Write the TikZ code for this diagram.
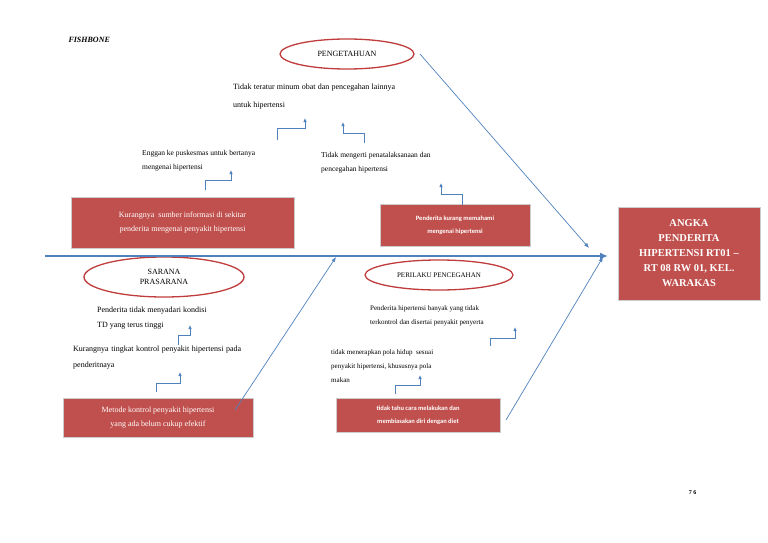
\documentclass[tikz,border=0pt]{standalone}
\usepackage{fontspec}
\setmainfont{Liberation Serif}
\newfontfamily\carl{Carlito}
\usetikzlibrary{arrows.meta}
\definecolor{boxred}{RGB}{192,80,77}
\definecolor{ellred}{RGB}{192,60,60}
\definecolor{bone}{RGB}{79,129,189}
\tikzset{
 redbox/.style={fill=boxred,draw=white!80!black,line width=0.8pt,text=white,align=center,inner sep=2pt},
 txt/.style={align=left,anchor=north west,inner sep=0pt,font=\fontsize{7.5}{14}\selectfont},
 bonel/.style={draw=bone,line width=0.7pt,-{Latex[length=5pt,width=4pt]}},
 elbow/.style={draw=bone,line width=0.8pt,-{Latex[length=4pt,width=3.5pt]}}
}
\begin{document}
\begin{tikzpicture}[x=1pt,y=-1pt]
\useasboundingbox (0,0) rectangle (768,543);
\node[anchor=west,font=\bfseries\itshape\fontsize{8}{9}\selectfont] (title) at (65,40) {FISHBONE};
% ellipses
\draw[draw=ellred,line width=1.3pt] (347,54) ellipse (67 and 15);
\node[font=\fontsize{8}{9}\selectfont] (pe) at (347,54) {PENGETAHUAN};
\draw[draw=ellred,line width=1.3pt] (164,277) ellipse (80 and 20);
\node[align=center,font=\fontsize{8}{9.5}\selectfont] (sp) at (164,277) {SARANA\\PRASARANA};
\draw[draw=ellred,line width=1.3pt] (439,275) ellipse (74 and 15);
\node[font=\fontsize{7}{8}\selectfont] (pp) at (439,275) {PERILAKU PENCEGAHAN};
% boxes
\node[redbox,minimum width=223pt,minimum height=51pt,font=\fontsize{8}{14}\selectfont] (b1) at (182.5,222.5) {Kurangnya\ \ sumber informasi di sekitar\\penderita mengenai penyakit hipertensi};
\node[redbox,minimum width=150pt,minimum height=42pt,font=\carl\bfseries\fontsize{6.5}{13}\selectfont] (b2) at (455,225) {Penderita kurang memahami\\mengenai hipertensi};
\node[redbox,minimum width=142pt,minimum height=93pt,font=\bfseries\fontsize{10.5}{15}\selectfont] (main) at (689,253.5) {ANGKA\\PENDERITA\\HIPERTENSI RT01 --\\RT 08 RW 01, KEL.\\WARAKAS};
\node[redbox,minimum width=190pt,minimum height=39pt,font=\fontsize{8}{14}\selectfont] (b3) at (158,417.5) {Metode kontrol penyakit hipertensi\\yang ada belum cukup efektif};
\node[redbox,minimum width=164pt,minimum height=34pt,font=\carl\bfseries\fontsize{6.5}{13}\selectfont] (b4) at (418,415) {tidak tahu cara melakukan dan\\membiasakan diri dengan diet};
% texts
\node[anchor=north west,inner sep=0pt,text width=162pt,align=justify,font=\fontsize{8}{18}\selectfont] (t1) at (233,84) {Tidak teratur minum obat dan pencegahan lainnya untuk hipertensi};
\node[txt,font=\fontsize{7.5}{14}\selectfont] (t2) at (142,150) {Enggan ke puskesmas untuk bertanya\\mengenai hipertensi};
\node[txt,font=\fontsize{7.5}{14}\selectfont] (t3) at (321,152) {Tidak mengerti penatalaksanaan dan\\pencegahan hipertensi};
\node[txt,font=\fontsize{8}{14.5}\selectfont] (t4) at (97,307) {Penderita tidak menyadari kondisi\\TD yang terus tinggi};
\node[anchor=north west,inner sep=0pt,text width=168pt,align=justify,font=\fontsize{8}{16}\selectfont] (t5) at (73,346) {Kurangnya tingkat kontrol penyakit hipertensi pada penderitnaya};
\node[txt,font=\fontsize{7}{14}\selectfont] (t6) at (370,305) {Penderita hipertensi banyak yang tidak\\terkontrol dan disertai penyakit penyerta};
\node[txt,font=\fontsize{7}{14}\selectfont] (t7) at (331,349) {tidak menerapkan pola hidup\ \ sesuai\\penyakit hipertensi, khususnya pola\\makan};
\node[anchor=east,font=\bfseries\fontsize{6}{7}\selectfont] (pg) at (700,493) {7 6};
% spine and bones
\coordinate (tail) at (45,256);
\coordinate (head) at (608,256);
\draw[draw=bone,line width=2pt,-{Latex[length=8pt,width=7pt]}] (tail) -- (head);
\coordinate (ub) at (420,54);
\coordinate (ube) at (589,248);
\draw[bonel] (ub) -- (ube);
\coordinate (lb1) at (235,410);
\coordinate (lb1e) at (336,257);
\draw[bonel] (lb1) -- (lb1e);
\coordinate (lb2) at (506,420);
\coordinate (lb2e) at (603,257);
\draw[bonel] (lb2) -- (lb2e);
% bent arrows
\draw[elbow] (277,140) -- (277,128) -- (305,128) -- (305,118);
\draw[elbow] (364,143) -- (364,133) -- (343,133) -- (343,122);
\draw[elbow] (205,190) -- (205,180) -- (231,180) -- (231,170);
\draw[elbow] (462,205) -- (462,194) -- (441,194) -- (441,183);
\draw[elbow] (178,345) -- (178,335) -- (190,335) -- (190,325);
\draw[elbow] (156,392) -- (156,383) -- (180,383) -- (180,372);
\draw[elbow] (490,346) -- (490,338) -- (515,338) -- (515,327);
\draw[elbow] (395,394) -- (395,385) -- (420,385) -- (420,375);
\end{tikzpicture}
\end{document}
